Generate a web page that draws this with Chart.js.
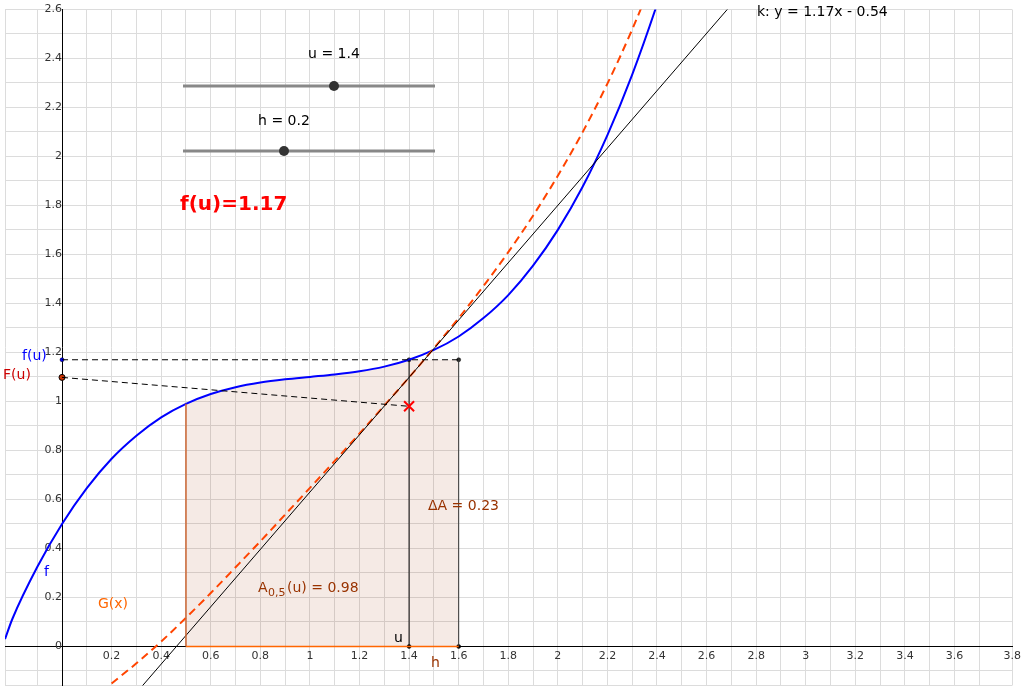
<!DOCTYPE html>
<html><head><meta charset="utf-8">
<script src="https://cdn.jsdelivr.net/npm/chart.js@4/dist/chart.umd.min.js"></script>
<style>html,body{margin:0;padding:0;background:#fff;}#w{width:1024px;height:695px;}</style>
</head><body><div id="w"><canvas id="c" width="1024" height="695"></canvas></div>
<script>
// data
const fX = [-0.23,-0.2,-0.1,0,0.1,0.2,0.3,0.4,0.5,0.6,0.7,0.8,0.9,1.0,1.1,1.2,1.3,1.4,1.5,1.6,1.7,1.8,1.9,2.0,2.1,2.2,2.3,2.4,2.45];
const fY = [0.03,0.113,0.324,0.5,0.646,0.766,0.86,0.935,0.99,1.03,1.058,1.077,1.09,1.1,1.11,1.123,1.142,1.17,1.21,1.265,1.34,1.434,1.554,1.7,1.876,2.087,2.334,2.62,2.78];
const gX = [0.2,0.3,0.4,0.5,0.6,0.7,0.8,0.9,1.0,1.1,1.2,1.3,1.4,1.5,1.6,1.7,1.8,1.9,2.0,2.1,2.2,2.3,2.4];
const gY = [-0.151,-0.069,0.02,0.117,0.218,0.323,0.429,0.538,0.647,0.757,0.869,0.983,1.098,1.217,1.34,1.471,1.609,1.758,1.921,2.099,2.297,2.518,2.765];
const tangentX = [0.2,2.8];
const tangentY = [1.17*0.2-0.54, 1.17*2.8-0.54];
const u = 1.4, h = 0.2, fu = 1.17, Fu = 1.098, Au = 0.98, dA = 0.23;

const pts = (xs,ys)=>xs.map((x,i)=>({x,y:ys[i]}));
const areaPts = [{x:0.5,y:0}].concat(pts(fX,fY).filter(p=>p.x>=0.5&&p.x<=u)).concat([{x:u+h,y:fu},{x:u+h,y:0}]);

const labels = {
  id:'labels',
  afterDatasetsDraw(ch){
    const c=ch.ctx, xs=ch.scales.x, ys=ch.scales.y;
    const X=v=>xs.getPixelForValue(v), Y=v=>ys.getPixelForValue(v);
    c.save();
    const slider=(y,knob,txt,ty)=>{
      c.strokeStyle='#888';c.lineWidth=3;c.beginPath();c.moveTo(183,y);c.lineTo(435,y);c.stroke();
      c.fillStyle='#333';c.beginPath();c.arc(knob,y,5,0,7);c.fill();
      c.fillStyle='#000';c.font='14px "DejaVu Sans"';c.textAlign='center';c.textBaseline='middle';c.fillText(txt,(knob),ty);
    };
    slider(86,334,'u = 1.4',54); slider(151,284,'h = 0.2',121);
    c.textAlign='left';c.textBaseline='middle';
    c.fillStyle='#ff0000';c.font='bold 20px "DejaVu Sans"';c.fillText('f(u)=1.17',180,205);
    c.fillStyle='#000';c.font='14px "DejaVu Sans"';c.fillText('k: y = 1.17x - 0.54',757,12);
    c.fillStyle='#0000ff';c.fillText('f(u)',22,356);c.fillText('f',44,572);
    c.fillStyle='#cc0000';c.fillText('F(u)',3,375);
    c.fillStyle='#993300';c.fillText('\u0394A = 0.23',428,506);
    c.fillText('A',258,588);c.font='11px "DejaVu Sans"';c.fillText('0,5',268,593);
    c.font='14px "DejaVu Sans"';c.fillText('(u) = 0.98',287,588);
    c.fillText('h',431,663);
    c.fillStyle='#ff6600';c.fillText('G(x)',98,604);
    c.fillStyle='#000';c.fillText('u',394,638);
    c.strokeStyle='#ff0000';c.lineWidth=2;const cx=X(u),cy=Y(Au);
    c.beginPath();c.moveTo(cx-5,cy-5);c.lineTo(cx+5,cy+5);c.moveTo(cx+5,cy-5);c.lineTo(cx-5,cy+5);c.stroke();
    c.restore();
  }
};

const tickCb = v => { const r=Math.round(v*10); if(r%2!==0||r<=0) return ''; return String(r/10); };
const tickCbY = v => { const r=Math.round(v*10); if(r%2!==0||r<0) return ''; return String(r/10); };
new Chart(document.getElementById('c'),{
  type:'line',
  data:{datasets:[
    {data:areaPts,fill:'origin',backgroundColor:'rgba(153,51,0,0.1)',borderWidth:0,pointRadius:0,tension:0,order:9},
    {data:[{x:0.5,y:0},{x:0.5,y:0.99}],borderColor:'#cc6633',borderWidth:1.5,pointRadius:0},
    {data:[{x:0.5,y:0},{x:u+h,y:0}],borderColor:'#ff6600',borderWidth:1.5,pointRadius:0},
    {data:[{x:u,y:0},{x:u,y:fu}],borderColor:'#000',borderWidth:1,pointRadius:0},
    {data:[{x:u+h,y:0},{x:u+h,y:fu}],borderColor:'#333',borderWidth:1,pointRadius:0},
    {data:[{x:0,y:fu},{x:u+h,y:fu}],borderColor:'#000',borderWidth:1,borderDash:[6,4],pointRadius:0},
    {data:[{x:0,y:Fu},{x:u,y:Au}],borderColor:'#000',borderWidth:1,borderDash:[6,4],pointRadius:0},
    {data:pts(tangentX,tangentY),borderColor:'#000',borderWidth:1,pointRadius:0},
    {data:pts(gX,gY),borderColor:'#ff4400',borderWidth:2,borderDash:[8,5],pointRadius:0,cubicInterpolationMode:'monotone'},
    {data:pts(fX,fY),borderColor:'#0000ff',borderWidth:2,pointRadius:0,cubicInterpolationMode:'monotone'},
    {data:[{x:0,y:fu},{x:u,y:fu},{x:u+h,y:fu},{x:u,y:0},{x:u+h,y:0}],showLine:false,pointRadius:2,pointBackgroundColor:['#0000ff','#333','#333','#000','#000'],pointBorderColor:'#000',pointBorderWidth:0.5},
    {data:[{x:0,y:Fu}],showLine:false,pointRadius:3,pointBackgroundColor:'#cc3300',pointBorderColor:'#000'}
  ]},
  options:{
    responsive:false,animation:false,
    layout:{padding:0},
    plugins:{legend:{display:false},tooltip:{enabled:false}},
    scales:{
      x:{type:'linear',min:-0.23,max:3.833,position:{y:0},afterFit:s=>{s.height=0;},
        ticks:{stepSize:0.1,autoSkip:false,maxRotation:0,callback:tickCb,color:'#333',font:{size:11,family:'DejaVu Sans'}},
        grid:{color:'#dcdcdc',drawTicks:false},border:{color:'#000'}},
      y:{type:'linear',min:-0.159,max:2.599,position:{x:0},afterFit:s=>{s.width=0;},
        ticks:{stepSize:0.1,autoSkip:false,callback:tickCbY,color:'#333',font:{size:11,family:'DejaVu Sans'}},
        grid:{color:'#dcdcdc',drawTicks:false},border:{color:'#000'}}
    }
  },
  plugins:[labels]
});
</script></body></html>
